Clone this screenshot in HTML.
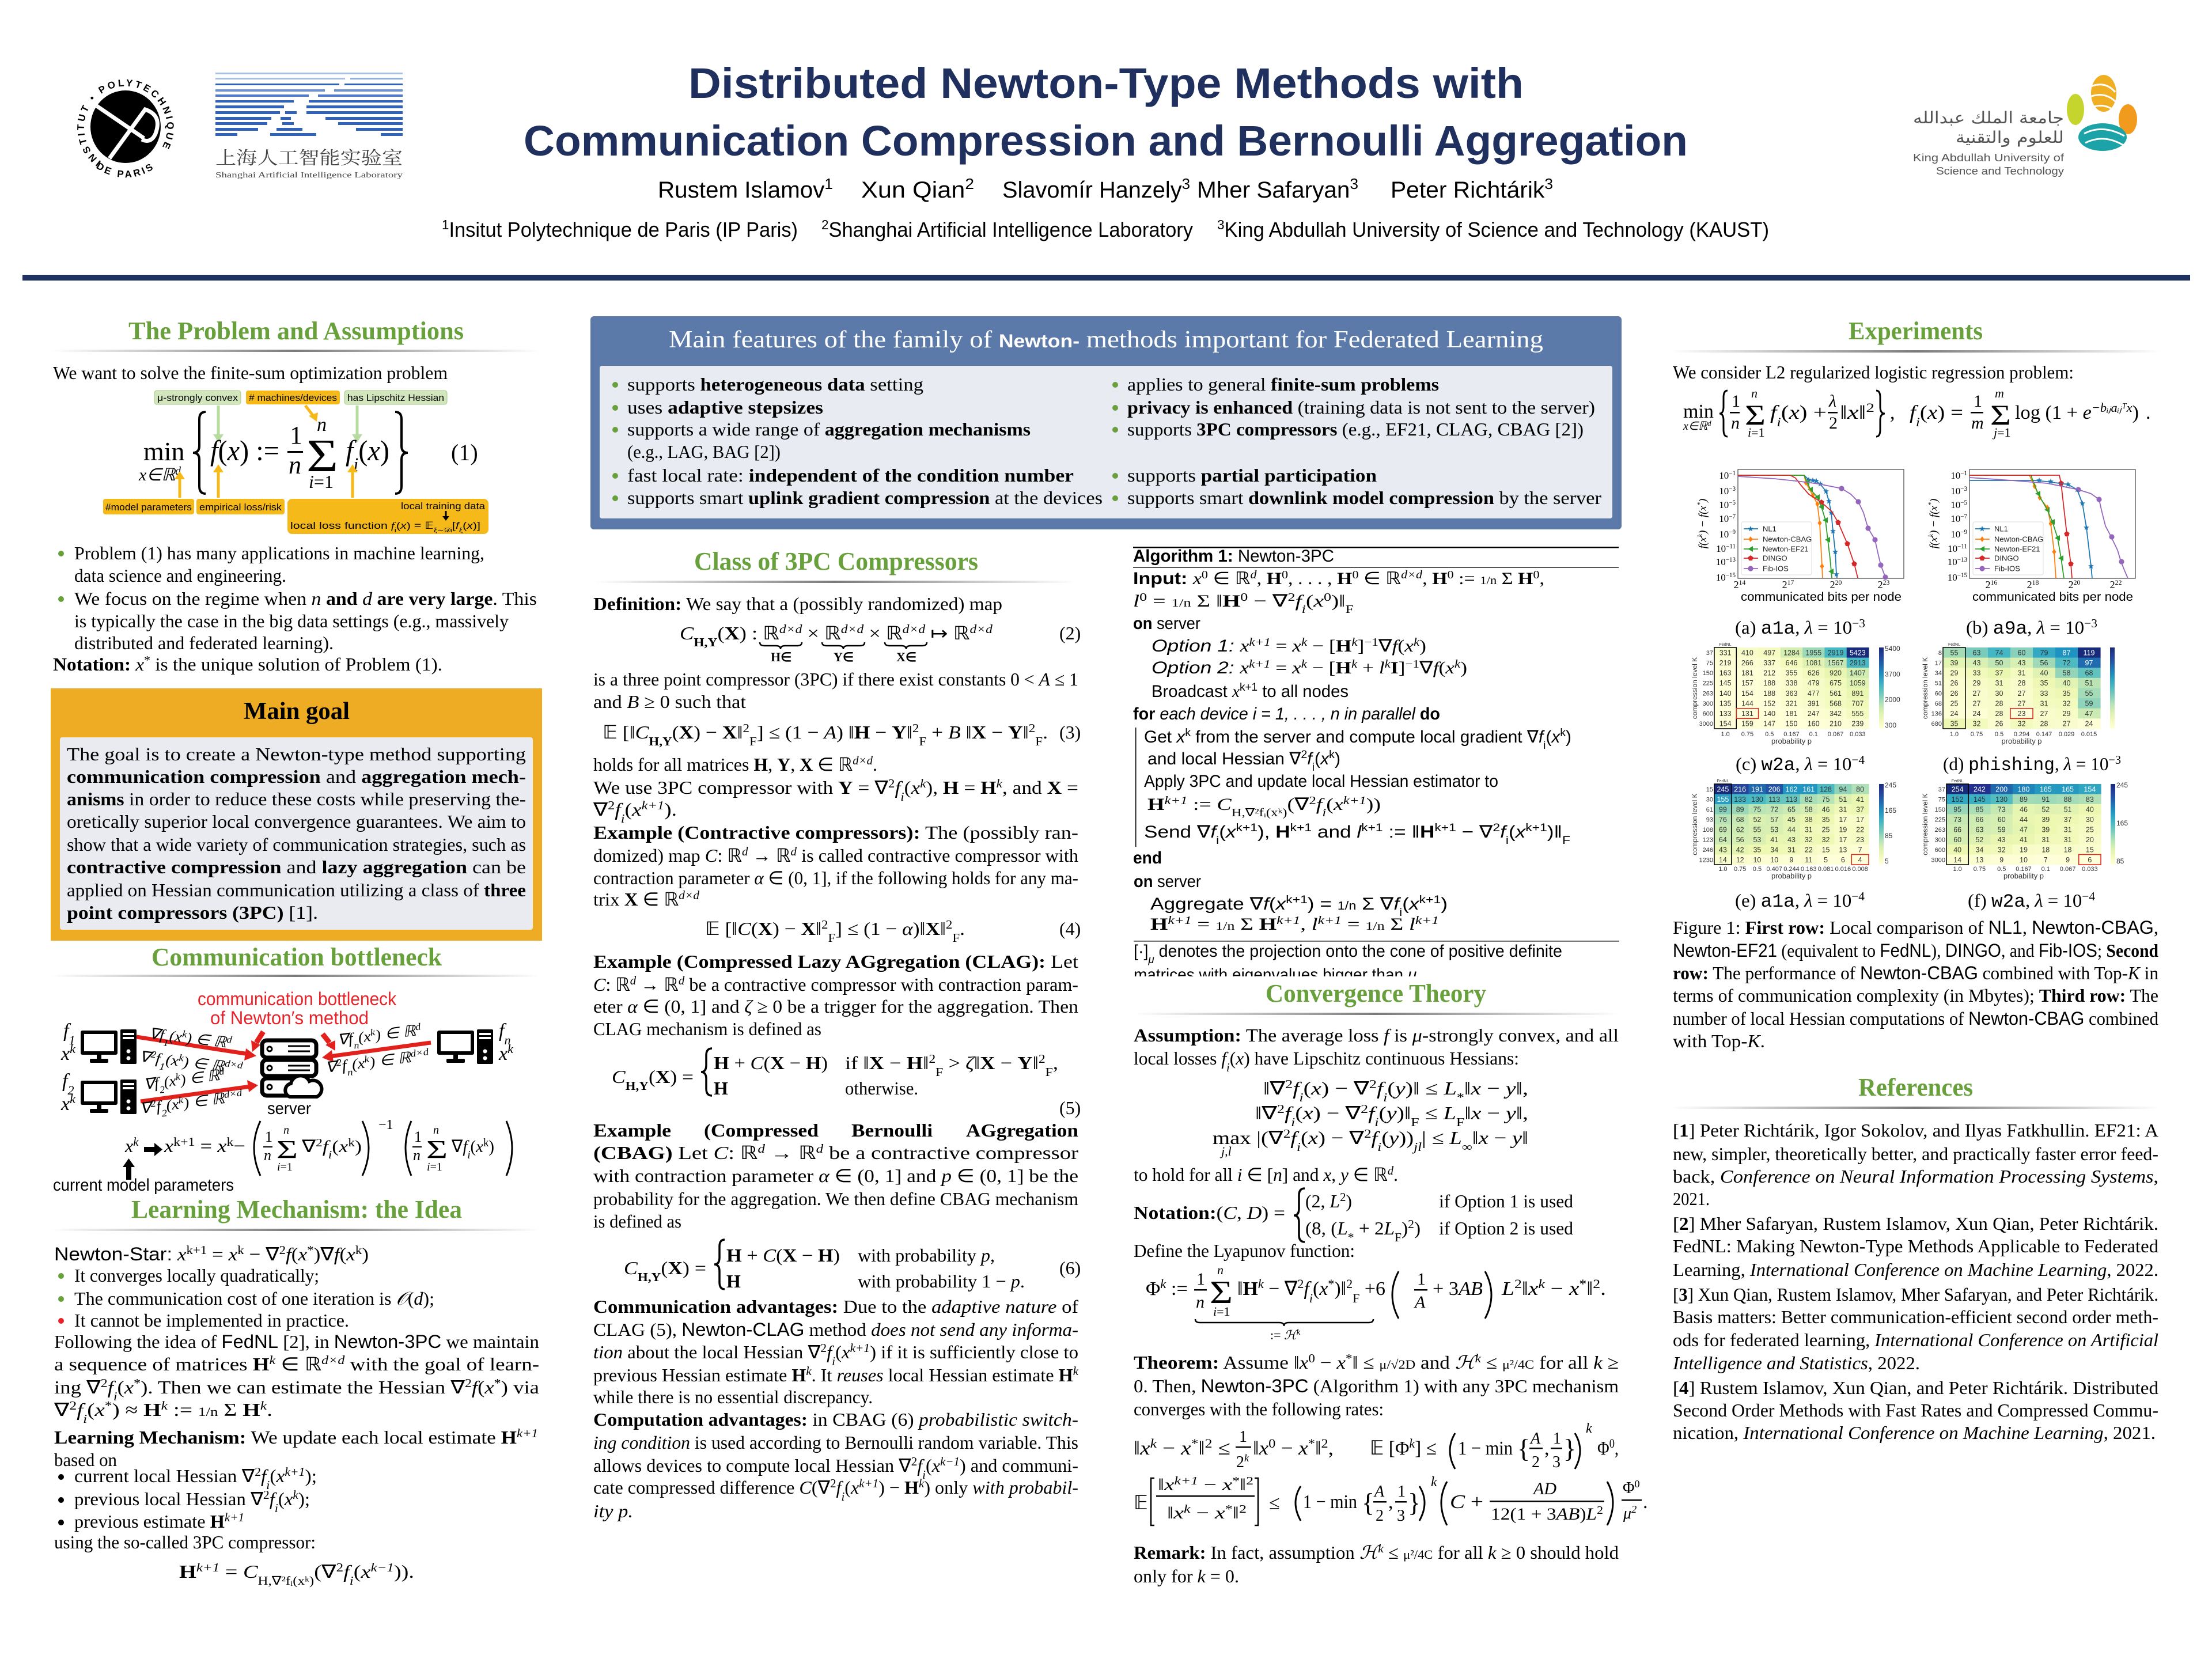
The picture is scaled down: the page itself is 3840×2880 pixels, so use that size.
<!DOCTYPE html>
<html><head><meta charset="utf-8">
<style>
html,body{margin:0;padding:0;background:#fff;width:3840px;height:2880px;overflow:hidden}
svg text{font-family:"Liberation Serif",serif;fill:#000}
.s{font-size:32px}
.ss{font-family:"Liberation Sans",sans-serif !important}
.b{font-weight:bold}
.i{font-style:italic}
.h{font-size:44px;font-weight:bold;fill:#68a03c !important}
.m{font-family:"Liberation Mono",monospace !important}
.sp{baseline-shift:super;font-size:65%}
.sb{baseline-shift:sub;font-size:65%}
.w{fill:#fff !important}
.tg{font-family:"Liberation Sans",sans-serif !important;font-size:17px}
</style></head><body>
<svg id="P" xmlns="http://www.w3.org/2000/svg" width="3840" height="2880" viewBox="0 0 3840 2880">
<defs>
<linearGradient id="gl" x1="0" x2="1" y1="0" y2="0">
<stop offset="0" stop-color="#ffffff"/><stop offset="0.5" stop-color="#7a7a7a"/><stop offset="1" stop-color="#ffffff"/>
</linearGradient>
<g id="pc">
<rect x="0" y="2" width="64" height="42" rx="3" fill="#000"/>
<rect x="6" y="8" width="52" height="30" fill="#fff"/>
<rect x="28" y="44" width="8" height="8" fill="#000"/>
<rect x="16" y="51" width="32" height="7" rx="2" fill="#000"/>
<rect x="69" y="0" width="28" height="60" rx="2" fill="#000"/>
<rect x="73" y="6" width="20" height="4" fill="#fff"/>
<rect x="73" y="13" width="20" height="4" fill="#fff"/>
<circle cx="83" cy="38" r="3.5" fill="#fff"/>
<circle cx="83" cy="50" r="3.5" fill="#fff"/>
</g>
<path id="ringT" d="M182,284 A72,72 0 1 1 273,268"/>
<path id="ringB" d="M143.5,265 A86,86 0 0 0 292.5,265"/>
</defs>
<rect x="0" y="0" width="3840" height="2880" fill="#fff"/>

<!-- ================= HEADER ================= -->
<!-- IP Paris logo -->
<ellipse cx="218" cy="220" rx="61" ry="63" fill="#000"/>
<path d="M168,184 L250,240" stroke="#fff" stroke-width="7" fill="none"/>
<path d="M190,275 L252,190 Q282,200 270,232 Q262,250 246,242" stroke="#fff" stroke-width="7" fill="none"/>
<text class="ss b" font-size="17" letter-spacing="4"><textPath href="#ringT" startOffset="2%">INSTITUT • POLYTECHNIQUE</textPath></text>
<text class="ss b" font-size="17" letter-spacing="4" text-anchor="middle"><textPath href="#ringB" startOffset="50%">DE PARIS</textPath></text>
<!-- Shanghai AI Lab logo -->
<g fill="#2f62b8">
<rect x="374" y="126" width="325" height="3" fill="#a9c0e6"/>
<rect x="374" y="135" width="225" height="3" fill="#a9c0e6"/><rect x="608" y="135" width="91" height="3" fill="#8fb0e0"/>
<rect x="374" y="145" width="215" height="3"/><rect x="598" y="145" width="101" height="3"/>
<rect x="374" y="155" width="190" height="4" fill="#6d93d4"/><rect x="580" y="155" width="119" height="4" fill="#6d93d4"/>
<rect x="374" y="164" width="162" height="4" fill="#4f7dcb"/><rect x="552" y="164" width="147" height="4" fill="#4f7dcb"/>
<rect x="374" y="174" width="136" height="4"/><rect x="536" y="174" width="163" height="4"/>
<rect x="374" y="183" width="119" height="5"/><rect x="532" y="183" width="167" height="5"/>
<rect x="374" y="193" width="112" height="5"/><rect x="495" y="193" width="20" height="5"/><rect x="532" y="193" width="167" height="5"/>
<rect x="374" y="203" width="97" height="5"/><rect x="487" y="203" width="18" height="5"/><rect x="565" y="203" width="134" height="5"/>
<rect x="374" y="212" width="90" height="5"/><rect x="490" y="212" width="20" height="5"/><rect x="587" y="212" width="112" height="5"/>
<rect x="374" y="222" width="74" height="5"/><rect x="480" y="222" width="45" height="5"/><rect x="618" y="222" width="81" height="5"/>
<rect x="374" y="231" width="38" height="5"/><rect x="469" y="231" width="80" height="5"/><rect x="661" y="231" width="38" height="5"/>
</g>
<text x="374" y="285" font-size="31" textLength="325" style="font-family:'Noto Serif CJK SC','Noto Sans CJK SC',serif;fill:#444">上海人工智能实验室</text>
<text x="374" y="308" font-size="14" textLength="325" style="fill:#444">Shanghai Artificial Intelligence Laboratory</text>
<!-- KAUST logo -->
<g>
<ellipse cx="3652" cy="162" rx="22" ry="32" fill="#f0ae22"/>
<ellipse cx="3603" cy="190" rx="15" ry="27" fill="#c6d42e"/>
<ellipse cx="3694" cy="207" rx="16" ry="26" fill="#f29a1d"/>
<ellipse cx="3650" cy="238" rx="42" ry="24" fill="#1ca3a7"/>
<path d="M3630,150 Q3655,140 3672,160 M3628,168 Q3655,158 3674,178 M3632,186 Q3655,178 3672,194" stroke="#fff" stroke-width="3" fill="none"/>
<path d="M3618,232 Q3650,215 3688,236 M3620,248 Q3652,232 3686,252" stroke="#fff" stroke-width="3" fill="none"/>
</g>
<text x="3321" y="214" font-size="28" textLength="262" style="font-family:'DejaVu Sans',sans-serif;fill:#555">جامعة الملك عبدالله</text>
<text x="3395" y="248" font-size="28" textLength="188" style="font-family:'DejaVu Sans',sans-serif;fill:#555">للعلوم والتقنية</text>
<text class="ss" x="3321" y="280" font-size="18" textLength="262" style="fill:#555">King Abdullah University of</text>
<text class="ss" x="3361" y="303" font-size="18" textLength="222" style="fill:#555">Science and Technology</text>

<!-- Title -->
<text class="ss b" x="1195" y="170" font-size="74" textLength="1450" style="fill:#1f2f5e">Distributed Newton-Type Methods with</text>
<text class="ss b" x="909" y="270" font-size="74" textLength="2021" style="fill:#1f2f5e">Communication Compression and Bernoulli Aggregation</text>
<text class="ss" x="1142" y="343" font-size="40" textLength="304">Rustem Islamov<tspan class="sp">1</tspan></text>
<text class="ss" x="1495" y="343" font-size="40" textLength="196">Xun Qian<tspan class="sp">2</tspan></text>
<text class="ss" x="1740" y="343" font-size="40" textLength="326">Slavomír Hanzely<tspan class="sp">3</tspan></text>
<text class="ss" x="2078" y="343" font-size="40" textLength="280">Mher Safaryan<tspan class="sp">3</tspan></text>
<text class="ss" x="2414" y="343" font-size="40" textLength="282">Peter Richtárik<tspan class="sp">3</tspan></text>
<text class="ss" x="767" y="411" font-size="36" textLength="618"><tspan class="sp">1</tspan>Insitut Polytechnique de Paris (IP Paris)</text>
<text class="ss" x="1426" y="411" font-size="36" textLength="645"><tspan class="sp">2</tspan>Shanghai Artificial Intelligence Laboratory</text>
<text class="ss" x="2113" y="411" font-size="36" textLength="958"><tspan class="sp">3</tspan>King Abdullah University of Science and Technology (KAUST)</text>
<rect x="39" y="477" width="3763" height="10" fill="#1f3161"/>

<!-- ================= LEFT COLUMN ================= -->
<text class="h" x="223" y="589" textLength="582">The Problem and Assumptions</text>
<rect x="89" y="607" width="848" height="4" fill="url(#gl)"/>
<text class="s" x="92" y="658" textLength="685">We want to solve the finite-sum optimization problem</text>

<!-- tags -->
<rect x="268" y="678" width="150" height="24" rx="4" fill="#d2e6bd" stroke="#aacb8c"/>
<text class="tg" x="273" y="696" textLength="140">μ-strongly convex</text>
<rect x="427" y="678" width="163" height="24" rx="4" fill="#f6b91a"/>
<text class="tg" x="432" y="696" textLength="153"># machines/devices</text>
<rect x="598" y="678" width="178" height="24" rx="4" fill="#d2e6bd" stroke="#aacb8c"/>
<text class="tg" x="603" y="696" textLength="168">has Lipschitz Hessian</text>
<g stroke="#b7dca0" stroke-width="5"><line x1="379" y1="704" x2="379" y2="758"/><line x1="620" y1="704" x2="620" y2="758"/></g>
<polygon points="370,754 388,754 379,768" fill="#b7dca0"/>
<polygon points="611,754 629,754 620,768" fill="#b7dca0"/>
<line x1="530" y1="704" x2="544" y2="722" stroke="#f6b91a" stroke-width="5"/>
<polygon points="536,722 552,716 550,732" fill="#f6b91a"/>
<!-- formula -->
<text x="249" y="799" font-size="46">min</text>
<text class="i" x="241" y="834" font-size="30">x∈ℝ<tspan class="sp">d</tspan></text>
<path d="M357,715 Q346,715 346,728 L346,774 Q346,786 335,786 Q346,786 346,798 L346,844 Q346,857 357,857" stroke="#000" stroke-width="4" fill="none"/>
<text x="365" y="799" font-size="50" textLength="120"><tspan class="i">f</tspan>(<tspan class="i">x</tspan>) :=</text>
<text x="503" y="770" font-size="44">1</text>
<rect x="499" y="783" width="27" height="3" fill="#000"/>
<text class="i" x="501" y="822" font-size="44">n</text>
<text x="532" y="818" font-size="80" textLength="55">Σ</text>
<text class="i" x="550" y="748" font-size="34">n</text>
<text x="536" y="847" font-size="32"><tspan class="i">i</tspan>=1</text>
<text x="600" y="799" font-size="50" textLength="76"><tspan class="i">f</tspan><tspan class="sb i">i</tspan>(<tspan class="i">x</tspan>)</text>
<path d="M686,715 Q697,715 697,728 L697,774 Q697,786 708,786 Q697,786 697,798 L697,844 Q697,857 686,857" stroke="#000" stroke-width="4" fill="none"/>
<text x="783" y="799" font-size="40">(1)</text>
<g stroke="#f6b91a" stroke-width="5"><line x1="312" y1="864" x2="312" y2="830"/><line x1="379" y1="864" x2="379" y2="818"/><line x1="612" y1="864" x2="612" y2="818"/></g>
<polygon points="303,832 321,832 312,818" fill="#f6b91a"/>
<polygon points="370,820 388,820 379,806" fill="#f6b91a"/>
<polygon points="603,820 621,820 612,806" fill="#f6b91a"/>
<rect x="179" y="866" width="158" height="27" rx="4" fill="#f6b91a"/>
<text class="tg" x="183" y="886" textLength="150">#model parameters</text>
<rect x="341" y="866" width="153" height="27" rx="4" fill="#f6b91a"/>
<text class="tg" x="346" y="886" textLength="143">empirical loss/risk</text>
<rect x="499" y="866" width="349" height="61" rx="8" fill="#f6b91a"/>
<text class="tg" x="696" y="884" textLength="146">local training data</text>
<line x1="774" y1="887" x2="774" y2="897" stroke="#000" stroke-width="3"/>
<polygon points="768,896 780,896 774,904" fill="#000"/>
<text class="tg" x="504" y="918" textLength="330">local loss function <tspan class="i" style="font-family:'Liberation Serif'">f</tspan><tspan class="sb">i</tspan>(<tspan class="i">x</tspan>) = 𝔼<tspan class="sb">ξ∼𝒟i</tspan>[<tspan class="i">f</tspan><tspan class="sb">ξ</tspan>(<tspan class="i">x</tspan>)]</text>

<circle cx="106" cy="961" r="5" fill="#68a03c"/>
<text class="s" x="129" y="971" textLength="712">Problem (1) has many applications in machine learning,</text>
<text class="s" x="129" y="1010" textLength="368">data science and engineering.</text>
<circle cx="106" cy="1040" r="5" fill="#68a03c"/>
<text class="s" x="129" y="1050" textLength="803">We focus on the regime when <tspan class="i">n</tspan> <tspan class="b">and</tspan> <tspan class="i">d</tspan> <tspan class="b">are very large</tspan>. This</text>
<text class="s" x="129" y="1089" textLength="754">is typically the case in the big data settings (e.g., massively</text>
<text class="s" x="129" y="1127" textLength="450">distributed and federated learning).</text>
<text class="s" x="92" y="1164" textLength="676"><tspan class="b">Notation:</tspan> <tspan class="i">x</tspan><tspan class="sp">*</tspan> is the unique solution of Problem (1).</text>

<!-- Main goal -->
<rect x="88" y="1195" width="853" height="438" fill="#eeac25"/>
<text class="b" x="423" y="1248" font-size="42" textLength="184">Main goal</text>
<rect x="104" y="1280" width="821" height="334" rx="4" fill="#e9ebf0"/>
<text class="s" x="116" y="1320" textLength="797">The goal is to create a Newton-type method supporting</text>
<text class="s" x="116" y="1359" textLength="797"><tspan class="b">communication compression</tspan> and <tspan class="b">aggregation mech-</tspan></text>
<text class="s" x="116" y="1398" textLength="797"><tspan class="b">anisms</tspan> in order to reduce these costs while preserving the-</text>
<text class="s" x="116" y="1437" textLength="797">oretically superior local convergence guarantees. We aim to</text>
<text class="s" x="116" y="1477" textLength="797">show that a wide variety of communication strategies, such as</text>
<text class="s" x="116" y="1516" textLength="797"><tspan class="b">contractive compression</tspan> and <tspan class="b">lazy aggregation</tspan> can be</text>
<text class="s" x="116" y="1556" textLength="797">applied on Hessian communication utilizing a class of <tspan class="b">three</tspan></text>
<text class="s" x="116" y="1595" textLength="436"><tspan class="b">point compressors (3PC)</tspan> [1].</text>

<!-- Communication bottleneck -->
<text class="h" x="263" y="1676" textLength="504">Communication bottleneck</text>
<rect x="89" y="1692" width="848" height="4" fill="url(#gl)"/>
<text class="ss" x="343" y="1745" font-size="32" textLength="345" style="fill:#e8232a">communication bottleneck</text>
<text class="ss" x="365" y="1778" font-size="32" textLength="275" style="fill:#e8232a">of Newton′s method</text>
<use href="#pc" x="140" y="1787"/>
<use href="#pc" x="140" y="1874"/>
<use href="#pc" x="759" y="1787"/>
<text class="i" x="110" y="1800" font-size="34">f<tspan class="sb">1</tspan></text>
<text class="i" x="106" y="1840" font-size="34">x<tspan class="sp">k</tspan></text>
<text class="i" x="108" y="1887" font-size="34">f<tspan class="sb">2</tspan></text>
<text class="i" x="106" y="1927" font-size="34">x<tspan class="sp">k</tspan></text>
<text class="i" x="866" y="1800" font-size="34">f<tspan class="sb">n</tspan></text>
<text class="i" x="866" y="1840" font-size="34">x<tspan class="sp">k</tspan></text>
<!-- server -->
<g fill="#fff" stroke="#000" stroke-width="7">
<rect x="455" y="1806" width="94" height="30" rx="8"/>
<rect x="455" y="1840" width="94" height="28" rx="8"/>
<rect x="455" y="1872" width="80" height="30" rx="8"/>
</g>
<g fill="#fff" stroke="#000" stroke-width="3"><circle cx="468" cy="1821" r="4"/><circle cx="468" cy="1854" r="4"/><circle cx="468" cy="1887" r="4"/></g>
<g stroke="#000" stroke-width="3"><line x1="500" y1="1816" x2="538" y2="1816"/><line x1="500" y1="1825" x2="538" y2="1825"/><line x1="500" y1="1850" x2="538" y2="1850"/><line x1="500" y1="1858" x2="538" y2="1858"/></g>
<path d="M503,1904 a12,12 0 0 1 2,-23 a17,17 0 0 1 32,-4 a12,12 0 0 1 13,27 z" fill="#fff" stroke="#000" stroke-width="6"/>
<text class="ss" x="464" y="1934" font-size="30" textLength="76">server</text>
<!-- red arrows -->
<g stroke="#e3211c" stroke-width="7">
<line x1="237" y1="1800" x2="432" y2="1830"/>
<line x1="244" y1="1912" x2="435" y2="1886"/>
<line x1="748" y1="1810" x2="572" y2="1834"/>
</g>
<polygon points="445,1833 427,1820 424,1841" fill="#e3211c"/>
<polygon points="448,1884 429,1875 432,1896" fill="#e3211c"/>
<polygon points="559,1836 576,1823 579,1844" fill="#e3211c"/>
<g stroke="#e3211c" stroke-width="9"><line x1="457" y1="1791" x2="445" y2="1810"/><line x1="560" y1="1795" x2="572" y2="1810"/></g>
<polygon points="436,1806 452,1814 438,1826" fill="#e3211c"/>
<polygon points="565,1814 582,1806 582,1824" fill="#e3211c"/>
<text class="i" font-size="26" transform="rotate(7 258 1802)" x="258" y="1802" textLength="144">∇f<tspan class="sb">1</tspan>(x<tspan class="sp">k</tspan>) ∈ ℝ<tspan class="sp">d</tspan></text>
<text class="i" font-size="26" transform="rotate(7 241 1842)" x="241" y="1842" textLength="180">∇<tspan class="sp">2</tspan>f<tspan class="sb">1</tspan>(x<tspan class="sp">k</tspan>) ∈ ℝ<tspan class="sp">d×d</tspan></text>
<text class="i" font-size="26" transform="rotate(-7 251 1891)" x="251" y="1891" textLength="141">∇f<tspan class="sb">2</tspan>(x<tspan class="sp">k</tspan>) ∈ ℝ<tspan class="sp">d</tspan></text>
<text class="i" font-size="26" transform="rotate(-7 244 1933)" x="244" y="1933" textLength="179">∇<tspan class="sp">2</tspan>f<tspan class="sb">2</tspan>(x<tspan class="sp">k</tspan>) ∈ ℝ<tspan class="sp">d×d</tspan></text>
<text class="i" font-size="26" transform="rotate(-7 587 1814)" x="587" y="1814" textLength="146">∇f<tspan class="sb">n</tspan>(x<tspan class="sp">k</tspan>) ∈ ℝ<tspan class="sp">d</tspan></text>
<text class="i" font-size="26" transform="rotate(-7 566 1862)" x="566" y="1862" textLength="181">∇<tspan class="sp">2</tspan>f<tspan class="sb">n</tspan>(x<tspan class="sp">k</tspan>) ∈ ℝ<tspan class="sp">d×d</tspan></text>
<!-- update equation -->
<text class="i" x="217" y="2000" font-size="32">x<tspan class="sp">k</tspan></text>
<rect x="250" y="1991" width="20" height="9" fill="#000"/>
<polygon points="268,1984 282,1995.5 268,2007" fill="#000"/>
<text x="285" y="2000" font-size="32" textLength="141"><tspan class="i">x</tspan><tspan class="sp">k+1</tspan> = <tspan class="i">x</tspan><tspan class="sp">k</tspan>−</text>
<path d="M452,1946 Q430,1993 452,2041" stroke="#000" stroke-width="3" fill="none"/>
<text x="460" y="1982" font-size="26">1</text><rect x="457" y="1990" width="16" height="2" fill="#000"/><text class="i" x="458" y="2014" font-size="26">n</text>
<text x="480" y="2010" font-size="44" textLength="37">Σ</text>
<text class="i" x="492" y="1968" font-size="20">n</text><text x="481" y="2032" font-size="20"><tspan class="i">i</tspan>=1</text>
<text x="524" y="2000" font-size="30" textLength="104">∇<tspan class="sp">2</tspan><tspan class="i">f</tspan><tspan class="sb i">i</tspan>(<tspan class="i">x</tspan><tspan class="sp">k</tspan>)</text>
<path d="M629,1946 Q651,1993 629,2041" stroke="#000" stroke-width="3" fill="none"/>
<text x="657" y="1960" font-size="24">−1</text>
<path d="M714,1946 Q694,1993 714,2041" stroke="#000" stroke-width="3" fill="none"/>
<text x="719" y="1982" font-size="26">1</text><rect x="716" y="1990" width="16" height="2" fill="#000"/><text class="i" x="717" y="2014" font-size="26">n</text>
<text x="740" y="2010" font-size="44" textLength="37">Σ</text>
<text class="i" x="752" y="1968" font-size="20">n</text><text x="741" y="2032" font-size="20"><tspan class="i">i</tspan>=1</text>
<text x="784" y="2000" font-size="30" textLength="74">∇<tspan class="i">f</tspan><tspan class="sb i">i</tspan>(<tspan class="i">x</tspan><tspan class="sp">k</tspan>)</text>
<path d="M879,1946 Q899,1993 879,2041" stroke="#000" stroke-width="3" fill="none"/>
<rect x="219" y="2024" width="9" height="24" fill="#000"/>
<polygon points="213,2026 234,2026 223.5,2011" fill="#000"/>
<text class="ss" x="92" y="2067" font-size="30" textLength="314">current model parameters</text>

<!-- Learning mechanism -->
<text class="h" x="228" y="2114" textLength="574">Learning Mechanism: the Idea</text>
<rect x="89" y="2133" width="848" height="4" fill="url(#gl)"/>
<text class="s" x="94" y="2188" textLength="546"><tspan class="ss">Newton-Star:</tspan> <tspan class="i">x</tspan><tspan class="sp">k+1</tspan> = <tspan class="i">x</tspan><tspan class="sp">k</tspan> − ∇<tspan class="sp">2</tspan><tspan class="i">f</tspan>(<tspan class="i">x</tspan><tspan class="sp">*</tspan>)∇<tspan class="i">f</tspan>(<tspan class="i">x</tspan><tspan class="sp">k</tspan>)</text>
<circle cx="106" cy="2215" r="5" fill="#68a03c"/>
<text class="s" x="129" y="2225" textLength="425">It converges locally quadratically;</text>
<circle cx="106" cy="2255" r="5" fill="#68a03c"/>
<text class="s" x="129" y="2265" textLength="625">The communication cost of one iteration is <tspan class="i">𝒪</tspan>(<tspan class="i">d</tspan>);</text>
<circle cx="106" cy="2293" r="5" fill="#e8232a"/>
<text class="s" x="129" y="2303" textLength="477">It cannot be implemented in practice.</text>
<text class="s" x="94" y="2340" textLength="842">Following the idea of <tspan class="ss">FedNL</tspan> [2], in <tspan class="ss">Newton-3PC</tspan> we maintain</text>
<text class="s" x="94" y="2379" textLength="842">a sequence of matrices <tspan class="b">H</tspan><tspan class="sp i">k</tspan> ∈ ℝ<tspan class="sp i">d×d</tspan> with the goal of learn-</text>
<text class="s" x="94" y="2419" textLength="842">ing ∇<tspan class="sp">2</tspan><tspan class="i">f</tspan><tspan class="sb i">i</tspan>(<tspan class="i">x</tspan><tspan class="sp">*</tspan>). Then we can estimate the Hessian ∇<tspan class="sp">2</tspan><tspan class="i">f</tspan>(<tspan class="i">x</tspan><tspan class="sp">*</tspan>) via</text>
<text class="s" x="94" y="2458" textLength="379">∇<tspan class="sp">2</tspan><tspan class="i">f</tspan><tspan class="sb i">i</tspan>(<tspan class="i">x</tspan><tspan class="sp">*</tspan>) ≈ <tspan class="b">H</tspan><tspan class="sp i">k</tspan> := <tspan font-size="22">1/n</tspan> Σ <tspan class="b">H</tspan><tspan class="sp i">k</tspan>.</text>
<text class="s" x="94" y="2506" textLength="840"><tspan class="b">Learning Mechanism:</tspan> We update each local estimate <tspan class="b">H</tspan><tspan class="sp i">k+1</tspan></text>
<text class="s" x="94" y="2545" textLength="109">based on</text>
<circle cx="106" cy="2564" r="5" fill="#000"/>
<text class="s" x="129" y="2573" textLength="421">current local Hessian ∇<tspan class="sp">2</tspan><tspan class="i">f</tspan><tspan class="sb i">i</tspan>(<tspan class="i">x</tspan><tspan class="sp i">k+1</tspan>);</text>
<circle cx="106" cy="2604" r="5" fill="#000"/>
<text class="s" x="129" y="2613" textLength="409">previous local Hessian ∇<tspan class="sp">2</tspan><tspan class="i">f</tspan><tspan class="sb i">i</tspan>(<tspan class="i">x</tspan><tspan class="sp i">k</tspan>);</text>
<circle cx="106" cy="2643" r="5" fill="#000"/>
<text class="s" x="129" y="2652" textLength="295">previous estimate <tspan class="b">H</tspan><tspan class="sp i">k+1</tspan></text>
<text class="s" x="94" y="2688" textLength="454">using the so-called 3PC compressor:</text>
<text class="s" x="311" y="2739" textLength="408"><tspan class="b">H</tspan><tspan class="sp i">k+1</tspan> = <tspan class="i">C</tspan><tspan class="sb" font-size="20">H,∇²fᵢ(xᵏ)</tspan>(∇<tspan class="sp">2</tspan><tspan class="i">f</tspan><tspan class="sb i">i</tspan>(<tspan class="i">x</tspan><tspan class="sp i">k−1</tspan>)).</text>

<!-- ================= MIDDLE COLUMN ================= -->
<rect x="1025" y="549" width="1790" height="370" rx="6" fill="#5b7aa9"/>
<rect x="1041" y="635" width="1758" height="265" rx="4" fill="#e8ebf1"/>
<text class="w" x="1161" y="603" font-size="42" textLength="1518">Main features of the family of <tspan class="ss b" font-size="32">Newton-</tspan> methods important for Federated Learning</text>
<g fill="#68a03c">
<circle cx="1068" cy="668" r="5"/><circle cx="1068" cy="708" r="5"/><circle cx="1068" cy="746" r="5"/><circle cx="1068" cy="826" r="5"/><circle cx="1068" cy="865" r="5"/>
<circle cx="1936" cy="668" r="5"/><circle cx="1936" cy="708" r="5"/><circle cx="1936" cy="746" r="5"/><circle cx="1936" cy="826" r="5"/><circle cx="1936" cy="865" r="5"/>
</g>
<text class="s" x="1089" y="678" textLength="514">supports <tspan class="b">heterogeneous data</tspan> setting</text>
<text class="s" x="1089" y="718" textLength="340">uses <tspan class="b">adaptive stepsizes</tspan></text>
<text class="s" x="1089" y="756" textLength="700">supports a wide range of <tspan class="b">aggregation mechanisms</tspan></text>
<text class="s" x="1089" y="795" textLength="266">(e.g., LAG, BAG [2])</text>
<text class="s" x="1089" y="836" textLength="775">fast local rate: <tspan class="b">independent of the condition number</tspan></text>
<text class="s" x="1089" y="875" textLength="825">supports smart <tspan class="b">uplink gradient compression</tspan> at the devices</text>
<text class="s" x="1957" y="678" textLength="541">applies to general <tspan class="b">finite-sum problems</tspan></text>
<text class="s" x="1957" y="718" textLength="812"><tspan class="b">privacy is enhanced</tspan> (training data is not sent to the server)</text>
<text class="s" x="1957" y="756" textLength="792">supports <tspan class="b">3PC compressors</tspan> (e.g., EF21, CLAG, CBAG [2])</text>
<text class="s" x="1957" y="836" textLength="433">supports <tspan class="b">partial participation</tspan></text>
<text class="s" x="1957" y="875" textLength="823">supports smart <tspan class="b">downlink model compression</tspan> by the server</text>

<!-- Class of 3PC -->
<text class="h" x="1205" y="989" textLength="493">Class of 3PC Compressors</text>
<rect x="1032" y="1008" width="835" height="4" fill="url(#gl)"/>
<text class="s" x="1030" y="1059" textLength="710"><tspan class="b">Definition:</tspan> We say that a (possibly randomized) map</text>
<text class="s" x="1180" y="1110" textLength="543"><tspan class="i">C</tspan><tspan class="sb b">H,Y</tspan>(<tspan class="b">X</tspan>) : ℝ<tspan class="sp i">d×d</tspan> × ℝ<tspan class="sp i">d×d</tspan> × ℝ<tspan class="sp i">d×d</tspan> ↦ ℝ<tspan class="sp i">d×d</tspan></text>
<g stroke="#000" stroke-width="2.5" fill="none">
<path d="M1319,1115 Q1319,1121 1327,1121 L1347,1121 Q1355,1121 1355,1127 Q1355,1121 1363,1121 L1384,1121 Q1392,1121 1392,1115"/>
<path d="M1427,1115 Q1427,1121 1435,1121 L1456,1121 Q1464,1121 1464,1127 Q1464,1121 1472,1121 L1493,1121 Q1501,1121 1501,1115"/>
<path d="M1536,1115 Q1536,1121 1544,1121 L1565,1121 Q1573,1121 1573,1127 Q1573,1121 1581,1121 L1601,1121 Q1609,1121 1609,1115"/>
</g>
<text class="b" x="1338" y="1148" font-size="22">H∈</text>
<text class="b" x="1447" y="1148" font-size="22">Y∈</text>
<text class="b" x="1556" y="1148" font-size="22">X∈</text>
<text class="s" x="1839" y="1110">(2)</text>
<text class="s" x="1030" y="1190" textLength="842">is a three point compressor (3PC) if there exist constants 0 &lt; <tspan class="i">A</tspan> ≤ 1</text>
<text class="s" x="1030" y="1229" textLength="265">and <tspan class="i">B</tspan> ≥ 0 such that</text>
<text class="s" x="1046" y="1282" textLength="773">𝔼 [‖<tspan class="i">C</tspan><tspan class="sb b">H,Y</tspan>(<tspan class="b">X</tspan>) − <tspan class="b">X</tspan>‖<tspan class="sp">2</tspan><tspan class="sb">F</tspan>] ≤ (1 − <tspan class="i">A</tspan>) ‖<tspan class="b">H</tspan> − <tspan class="b">Y</tspan>‖<tspan class="sp">2</tspan><tspan class="sb">F</tspan> + <tspan class="i">B</tspan> ‖<tspan class="b">X</tspan> − <tspan class="b">Y</tspan>‖<tspan class="sp">2</tspan><tspan class="sb">F</tspan>.</text>
<text class="s" x="1839" y="1282">(3)</text>
<text class="s" x="1030" y="1338" textLength="493">holds for all matrices <tspan class="b">H</tspan>, <tspan class="b">Y</tspan>, <tspan class="b">X</tspan> ∈ ℝ<tspan class="sp i">d×d</tspan>.</text>
<text class="s" x="1030" y="1378" textLength="842">We use 3PC compressor with <tspan class="b">Y</tspan> = ∇<tspan class="sp">2</tspan><tspan class="i">f</tspan><tspan class="sb i">i</tspan>(<tspan class="i">x</tspan><tspan class="sp i">k</tspan>), <tspan class="b">H</tspan> = <tspan class="b">H</tspan><tspan class="sp i">k</tspan>, and <tspan class="b">X</tspan> =</text>
<text class="s" x="1030" y="1416" textLength="145">∇<tspan class="sp">2</tspan><tspan class="i">f</tspan><tspan class="sb i">i</tspan>(<tspan class="i">x</tspan><tspan class="sp i">k+1</tspan>).</text>
<text class="s" x="1030" y="1456" textLength="842"><tspan class="b">Example (Contractive compressors):</tspan> The (possibly ran-</text>
<text class="s" x="1030" y="1496" textLength="842">domized) map <tspan class="i">C</tspan>: ℝ<tspan class="sp i">d</tspan> → ℝ<tspan class="sp i">d</tspan> is called contractive compressor with</text>
<text class="s" x="1030" y="1535" textLength="842">contraction parameter <tspan class="i">α</tspan> ∈ (0, 1], if the following holds for any ma-</text>
<text class="s" x="1030" y="1572" textLength="184">trix <tspan class="b">X</tspan> ∈ ℝ<tspan class="sp i">d×d</tspan></text>
<text class="s" x="1224" y="1623" textLength="451">𝔼 [‖<tspan class="i">C</tspan>(<tspan class="b">X</tspan>) − <tspan class="b">X</tspan>‖<tspan class="sp">2</tspan><tspan class="sb">F</tspan>] ≤ (1 − <tspan class="i">α</tspan>)‖<tspan class="b">X</tspan>‖<tspan class="sp">2</tspan><tspan class="sb">F</tspan>.</text>
<text class="s" x="1839" y="1623">(4)</text>
<text class="s" x="1030" y="1680" textLength="842"><tspan class="b">Example (Compressed Lazy AGgregation (CLAG):</tspan> Let</text>
<text class="s" x="1030" y="1720" textLength="842"><tspan class="i">C</tspan>: ℝ<tspan class="sp i">d</tspan> → ℝ<tspan class="sp i">d</tspan> be a contractive compressor with contraction param-</text>
<text class="s" x="1030" y="1758" textLength="842">eter <tspan class="i">α</tspan> ∈ (0, 1] and <tspan class="i">ζ</tspan> ≥ 0 be a trigger for the aggregation. Then</text>
<text class="s" x="1030" y="1797" textLength="396">CLAG mechanism is defined as</text>
<text class="s" x="1062" y="1880" textLength="142"><tspan class="i">C</tspan><tspan class="sb b">H,Y</tspan>(<tspan class="b">X</tspan>) =</text>
<path d="M1236,1820 Q1226,1820 1226,1832 L1226,1849 Q1226,1861 1217,1861 Q1226,1861 1226,1873 L1226,1890 Q1226,1902 1236,1902" stroke="#000" stroke-width="3.5" fill="none"/>
<text class="s" x="1239" y="1856" textLength="198"><tspan class="b">H</tspan> + <tspan class="i">C</tspan>(<tspan class="b">X</tspan> − <tspan class="b">H</tspan>)</text>
<text class="s" x="1467" y="1856" textLength="370">if ‖<tspan class="b">X</tspan> − <tspan class="b">H</tspan>‖<tspan class="sp">2</tspan><tspan class="sb">F</tspan> &gt; <tspan class="i">ζ</tspan>‖<tspan class="b">X</tspan> − <tspan class="b">Y</tspan>‖<tspan class="sp">2</tspan><tspan class="sb">F</tspan>,</text>
<text class="s b" x="1239" y="1900">H</text>
<text class="s" x="1467" y="1900" textLength="127">otherwise.</text>
<text class="s" x="1839" y="1934">(5)</text>
<text class="s b" x="1030" y="1973" textLength="135">Example</text>
<text class="s b" x="1222" y="1973" textLength="199">(Compressed</text>
<text class="s b" x="1478" y="1973" textLength="141">Bernoulli</text>
<text class="s b" x="1677" y="1973" textLength="195">AGgregation</text>
<text class="s" x="1030" y="2012" textLength="842"><tspan class="b">(CBAG)</tspan> Let <tspan class="i">C</tspan>: ℝ<tspan class="sp i">d</tspan>  →  ℝ<tspan class="sp i">d</tspan> be a contractive compressor</text>
<text class="s" x="1030" y="2052" textLength="842">with contraction parameter <tspan class="i">α</tspan> ∈ (0, 1] and <tspan class="i">p</tspan> ∈ (0, 1] be the</text>
<text class="s" x="1030" y="2092" textLength="842">probability for the aggregation. We then define CBAG mechanism</text>
<text class="s" x="1030" y="2131" textLength="153">is defined as</text>
<text class="s" x="1083" y="2212" textLength="143"><tspan class="i">C</tspan><tspan class="sb b">H,Y</tspan>(<tspan class="b">X</tspan>) =</text>
<path d="M1258,2152 Q1249,2152 1249,2164 L1249,2183 Q1249,2195 1240,2195 Q1249,2195 1249,2207 L1249,2226 Q1249,2238 1258,2238" stroke="#000" stroke-width="3.5" fill="none"/>
<text class="s" x="1261" y="2190" textLength="197"><tspan class="b">H</tspan> + <tspan class="i">C</tspan>(<tspan class="b">X</tspan> − <tspan class="b">H</tspan>)</text>
<text class="s" x="1489" y="2190" textLength="238">with probability <tspan class="i">p</tspan>,</text>
<text class="s b" x="1261" y="2235">H</text>
<text class="s" x="1489" y="2235" textLength="290">with probability 1 − <tspan class="i">p</tspan>.</text>
<text class="s" x="1839" y="2212">(6)</text>
<text class="s" x="1030" y="2279" textLength="842"><tspan class="b">Communication advantages:</tspan> Due to the <tspan class="i">adaptive nature</tspan> of</text>
<text class="s" x="1030" y="2319" textLength="842">CLAG (5), <tspan class="ss">Newton-CLAG</tspan> method <tspan class="i">does not send any informa-</tspan></text>
<text class="s" x="1030" y="2358" textLength="842"><tspan class="i">tion</tspan> about the local Hessian ∇<tspan class="sp">2</tspan><tspan class="i">f</tspan><tspan class="sb i">i</tspan>(<tspan class="i">x</tspan><tspan class="sp i">k+1</tspan>) if it is sufficiently close to</text>
<text class="s" x="1030" y="2398" textLength="842">previous Hessian estimate <tspan class="b">H</tspan><tspan class="sp i">k</tspan>. It <tspan class="i">reuses</tspan> local Hessian estimate <tspan class="b">H</tspan><tspan class="sp i">k</tspan></text>
<text class="s" x="1030" y="2436" textLength="485">while there is no essential discrepancy.</text>
<text class="s" x="1030" y="2475" textLength="842"><tspan class="b">Computation advantages:</tspan> in CBAG (6) <tspan class="i">probabilistic switch-</tspan></text>
<text class="s" x="1030" y="2515" textLength="842"><tspan class="i">ing condition</tspan> is used according to Bernoulli random variable. This</text>
<text class="s" x="1030" y="2555" textLength="842">allows devices to compute local Hessian ∇<tspan class="sp">2</tspan><tspan class="i">f</tspan><tspan class="sb i">i</tspan>(<tspan class="i">x</tspan><tspan class="sp i">k−1</tspan>) and communi-</text>
<text class="s" x="1030" y="2593" textLength="842">cate compressed difference <tspan class="i">C</tspan>(∇<tspan class="sp">2</tspan><tspan class="i">f</tspan><tspan class="sb i">i</tspan>(<tspan class="i">x</tspan><tspan class="sp i">k+1</tspan>) − <tspan class="b">H</tspan><tspan class="sp i">k</tspan>) only <tspan class="i">with probabil-</tspan></text>
<text class="s i" x="1030" y="2634" textLength="69">ity p.</text>

<!-- Algorithm -->
<rect x="1967" y="949" width="843" height="2.5" fill="#000"/>
<text class="ss" x="1967" y="975" font-size="30" textLength="349"><tspan class="b">Algorithm 1:</tspan> Newton-3PC</text>
<rect x="1967" y="984" width="843" height="1.5" fill="#000"/>
<text class="ss" x="1967" y="1014" font-size="30" textLength="714"><tspan class="b">Input:</tspan> <tspan style="font-family:'Liberation Serif'"><tspan class="i">x</tspan><tspan class="sp">0</tspan> ∈ ℝ<tspan class="sp i">d</tspan>, <tspan class="b">H</tspan><tspan class="sp">0</tspan>, . . . , <tspan class="b">H</tspan><tspan class="sp">0</tspan> ∈ ℝ<tspan class="sp i">d×d</tspan>, <tspan class="b">H</tspan><tspan class="sp">0</tspan> := <tspan font-size="20">1/n</tspan> Σ <tspan class="b">H</tspan><tspan class="sp">0</tspan>,</tspan></text>
<text x="1967" y="1053" font-size="30" textLength="383"><tspan class="i">l</tspan><tspan class="sp">0</tspan> = <tspan font-size="20">1/n</tspan> Σ ‖<tspan class="b">H</tspan><tspan class="sp">0</tspan> − ∇<tspan class="sp">2</tspan><tspan class="i">f</tspan><tspan class="sb i">i</tspan>(<tspan class="i">x</tspan><tspan class="sp">0</tspan>)‖<tspan class="sb">F</tspan></text>
<text class="ss" x="1967" y="1092" font-size="30" textLength="117"><tspan class="b">on</tspan> server</text>
<text class="ss" x="1999" y="1131" font-size="30" textLength="477"><tspan class="i">Option 1:</tspan> <tspan style="font-family:'Liberation Serif'"><tspan class="i">x</tspan><tspan class="sp i">k+1</tspan> = <tspan class="i">x</tspan><tspan class="sp i">k</tspan> − [<tspan class="b">H</tspan><tspan class="sp i">k</tspan>]<tspan class="sp">−1</tspan>∇<tspan class="i">f</tspan>(<tspan class="i">x</tspan><tspan class="sp i">k</tspan>)</tspan></text>
<text class="ss" x="1999" y="1169" font-size="30" textLength="548"><tspan class="i">Option 2:</tspan> <tspan style="font-family:'Liberation Serif'"><tspan class="i">x</tspan><tspan class="sp i">k+1</tspan> = <tspan class="i">x</tspan><tspan class="sp i">k</tspan> − [<tspan class="b">H</tspan><tspan class="sp i">k</tspan> + <tspan class="i">l</tspan><tspan class="sp i">k</tspan><tspan class="b">I</tspan>]<tspan class="sp">−1</tspan>∇<tspan class="i">f</tspan>(<tspan class="i">x</tspan><tspan class="sp i">k</tspan>)</tspan></text>
<text class="ss" x="1999" y="1210" font-size="30" textLength="342">Broadcast <tspan class="i" style="font-family:'Liberation Serif'">x</tspan><tspan class="sp">k+1</tspan> to all nodes</text>
<text class="ss" x="1967" y="1249" font-size="30" textLength="533"><tspan class="b">for</tspan> <tspan class="i">each device i = 1, . . . , n in parallel</tspan> <tspan class="b">do</tspan></text>
<rect x="1971" y="1263" width="1.5" height="207" fill="#000"/>
<text class="ss" x="1986" y="1289" font-size="30" textLength="742">Get <tspan class="i">x</tspan><tspan class="sp">k</tspan> from the server and compute local gradient ∇<tspan class="i">f</tspan><tspan class="sb">i</tspan>(<tspan class="i">x</tspan><tspan class="sp">k</tspan>)</text>
<text class="ss" x="1992" y="1327" font-size="30" textLength="335">and local Hessian ∇<tspan class="sp">2</tspan><tspan class="i">f</tspan><tspan class="sb">i</tspan>(<tspan class="i">x</tspan><tspan class="sp">k</tspan>)</text>
<text class="ss" x="1986" y="1366" font-size="30" textLength="615">Apply 3PC and update local Hessian estimator to</text>
<text x="1992" y="1406" font-size="30" textLength="405"><tspan class="b">H</tspan><tspan class="sp i">k+1</tspan> := <tspan class="i">C</tspan><tspan class="sb" font-size="18">H,∇²fᵢ(xᵏ)</tspan>(∇<tspan class="sp">2</tspan><tspan class="i">f</tspan><tspan class="sb i">i</tspan>(<tspan class="i">x</tspan><tspan class="sp i">k+1</tspan>))</text>
<text class="ss" x="1986" y="1454" font-size="30" textLength="740">Send ∇<tspan class="i">f</tspan><tspan class="sb">i</tspan>(<tspan class="i">x</tspan><tspan class="sp">k+1</tspan>), <tspan class="b">H</tspan><tspan class="sp">k+1</tspan> and <tspan class="i">l</tspan><tspan class="sp">k+1</tspan> := ‖<tspan class="b">H</tspan><tspan class="sp">k+1</tspan> − ∇<tspan class="sp">2</tspan><tspan class="i">f</tspan><tspan class="sb">i</tspan>(<tspan class="i">x</tspan><tspan class="sp">k+1</tspan>)‖<tspan class="sb">F</tspan></text>
<text class="ss b" x="1967" y="1499" font-size="30" textLength="50">end</text>
<text class="ss" x="1968" y="1540" font-size="30" textLength="117"><tspan class="b">on</tspan> server</text>
<text class="ss" x="1997" y="1579" font-size="30" textLength="516">Aggregate ∇<tspan class="i">f</tspan>(<tspan class="i">x</tspan><tspan class="sp">k+1</tspan>) = <tspan font-size="20">1/n</tspan> Σ ∇<tspan class="i">f</tspan><tspan class="sb">i</tspan>(<tspan class="i">x</tspan><tspan class="sp">k+1</tspan>)</text>
<text x="1997" y="1614" font-size="30" textLength="501"><tspan class="b">H</tspan><tspan class="sp i">k+1</tspan> = <tspan font-size="20">1/n</tspan> Σ <tspan class="b">H</tspan><tspan class="sp i">k+1</tspan>, <tspan class="i">l</tspan><tspan class="sp i">k+1</tspan> = <tspan font-size="20">1/n</tspan> Σ <tspan class="i">l</tspan><tspan class="sp i">k+1</tspan></text>
<rect x="1968" y="1633" width="843" height="1.5" fill="#000"/>
<text class="ss" x="1968" y="1661" font-size="30" textLength="744">[·]<tspan class="sb i">μ</tspan> denotes the projection onto the cone of positive definite</text>
<text class="ss" x="1968" y="1702" font-size="30" textLength="499">matrices with eigenvalues bigger than <tspan class="i">μ</tspan>.</text>
<rect x="1960" y="1695" width="860" height="14" fill="#fff"/>

<!-- Convergence -->
<text class="h" x="2197" y="1739" textLength="383">Convergence Theory</text>
<rect x="1970" y="1758" width="840" height="4" fill="url(#gl)"/>
<text class="s" x="1968" y="1808" textLength="842"><tspan class="b">Assumption:</tspan> The average loss <tspan class="i">f</tspan> is <tspan class="i">μ</tspan>-strongly convex, and all</text>
<text class="s" x="1968" y="1848" textLength="669">local losses <tspan class="i">f</tspan><tspan class="sb i">i</tspan>(<tspan class="i">x</tspan>) have Lipschitz continuous Hessians:</text>
<text class="s" x="2193" y="1900" textLength="460">‖∇<tspan class="sp">2</tspan><tspan class="i">f</tspan><tspan class="sb i">i</tspan>(<tspan class="i">x</tspan>) − ∇<tspan class="sp">2</tspan><tspan class="i">f</tspan><tspan class="sb i">i</tspan>(<tspan class="i">y</tspan>)‖  ≤ <tspan class="i">L</tspan><tspan class="sb">*</tspan>‖<tspan class="i">x</tspan> − <tspan class="i">y</tspan>‖,</text>
<text class="s" x="2179" y="1943" textLength="474">‖∇<tspan class="sp">2</tspan><tspan class="i">f</tspan><tspan class="sb i">i</tspan>(<tspan class="i">x</tspan>) − ∇<tspan class="sp">2</tspan><tspan class="i">f</tspan><tspan class="sb i">i</tspan>(<tspan class="i">y</tspan>)‖<tspan class="sb">F</tspan> ≤ <tspan class="i">L</tspan><tspan class="sb">F</tspan>‖<tspan class="i">x</tspan> − <tspan class="i">y</tspan>‖,</text>
<text class="s" x="2105" y="1986" textLength="548">max |(∇<tspan class="sp">2</tspan><tspan class="i">f</tspan><tspan class="sb i">i</tspan>(<tspan class="i">x</tspan>) − ∇<tspan class="sp">2</tspan><tspan class="i">f</tspan><tspan class="sb i">i</tspan>(<tspan class="i">y</tspan>))<tspan class="sb i">jl</tspan>| ≤ <tspan class="i">L</tspan><tspan class="sb">∞</tspan>‖<tspan class="i">x</tspan> − <tspan class="i">y</tspan>‖</text>
<text class="i" x="2120" y="2006" font-size="22">j,l</text>
<text class="s" x="1968" y="2050" textLength="459">to hold for all <tspan class="i">i</tspan> ∈ [<tspan class="i">n</tspan>] and <tspan class="i">x</tspan>, <tspan class="i">y</tspan> ∈ ℝ<tspan class="sp i">d</tspan>.</text>
<text class="s" x="1968" y="2116" textLength="263"><tspan class="b">Notation:</tspan>(<tspan class="i">C</tspan>, <tspan class="i">D</tspan>) =</text>
<path d="M2265,2063 Q2255,2063 2255,2075 L2255,2098 Q2255,2110 2246,2110 Q2255,2110 2255,2122 L2255,2144 Q2255,2156 2265,2156" stroke="#000" stroke-width="3.5" fill="none"/>
<text class="s" x="2266" y="2096" textLength="81">(2, <tspan class="i">L</tspan><tspan class="sp">2</tspan>)</text>
<text class="s" x="2498" y="2096" textLength="233">if Option 1 is used</text>
<text class="s" x="2266" y="2143" textLength="200">(8, (<tspan class="i">L</tspan><tspan class="sb">*</tspan> + 2<tspan class="i">L</tspan><tspan class="sb">F</tspan>)<tspan class="sp">2</tspan>)</text>
<text class="s" x="2498" y="2143" textLength="233">if Option 2 is used</text>
<text class="s" x="1968" y="2182" textLength="384">Define the Lyapunov function:</text>
<!-- Phi -->
<text x="1989" y="2248" font-size="34" textLength="73">Φ<tspan class="sp i">k</tspan> :=</text>
<text x="2077" y="2230" font-size="30">1</text><rect x="2073" y="2238" width="22" height="2.5" fill="#000"/><text class="i" x="2076" y="2270" font-size="30">n</text>
<text x="2100" y="2262" font-size="56" textLength="40">Σ</text>
<text class="i" x="2113" y="2212" font-size="22">n</text><text x="2106" y="2284" font-size="22"><tspan class="i">i</tspan>=1</text>
<text x="2148" y="2248" font-size="34" textLength="257">‖<tspan class="b">H</tspan><tspan class="sp i">k</tspan> − ∇<tspan class="sp">2</tspan><tspan class="i">f</tspan><tspan class="sb i">i</tspan>(<tspan class="i">x</tspan><tspan class="sp">*</tspan>)‖<tspan class="sp">2</tspan><tspan class="sb">F</tspan> +6</text>
<path d="M2428,2207 Q2406,2248 2428,2289" stroke="#000" stroke-width="3" fill="none"/>
<text x="2460" y="2230" font-size="30">1</text><rect x="2455" y="2238" width="23" height="2.5" fill="#000"/><text class="i" x="2456" y="2270" font-size="30">A</text>
<text x="2487" y="2248" font-size="34" textLength="87">+ 3<tspan class="i">AB</tspan></text>
<path d="M2578,2207 Q2600,2248 2578,2289" stroke="#000" stroke-width="3" fill="none"/>
<text x="2607" y="2248" font-size="34" textLength="181"><tspan class="i">L</tspan><tspan class="sp">2</tspan>‖<tspan class="i">x</tspan><tspan class="sp i">k</tspan> − <tspan class="i">x</tspan><tspan class="sp">*</tspan>‖<tspan class="sp">2</tspan>.</text>
<path d="M2075,2290 Q2075,2296 2083,2296 L2221,2296 Q2229,2296 2229,2302 Q2229,2296 2237,2296 L2376,2296 Q2384,2296 2384,2290" stroke="#000" stroke-width="2.5" fill="none"/>
<text x="2205" y="2325" font-size="22">:= <tspan class="i">ℋ</tspan><tspan class="sp i">k</tspan></text>
<text class="s" x="1968" y="2376" textLength="842"><tspan class="b">Theorem:</tspan> Assume ‖<tspan class="i">x</tspan><tspan class="sp">0</tspan> − <tspan class="i">x</tspan><tspan class="sp">*</tspan>‖ ≤ <tspan font-size="22">μ/√2D</tspan> and <tspan class="i">ℋ</tspan><tspan class="sp i">k</tspan> ≤ <tspan font-size="22">μ²/4C</tspan> for all <tspan class="i">k</tspan> ≥</text>
<text class="s" x="1968" y="2417" textLength="842">0. Then, <tspan class="ss">Newton-3PC</tspan> (Algorithm 1) with any 3PC mechanism</text>
<text class="s" x="1968" y="2457" textLength="434">converges with the following rates:</text>
<!-- rates line 1 -->
<text x="1968" y="2525" font-size="34" textLength="168">‖<tspan class="i">x</tspan><tspan class="sp i">k</tspan> − <tspan class="i">x</tspan><tspan class="sp">*</tspan>‖<tspan class="sp">2</tspan> ≤</text>
<text x="2151" y="2503" font-size="28">1</text><rect x="2145" y="2511" width="27" height="2.5" fill="#000"/><text x="2146" y="2547" font-size="28">2<tspan class="sp i">k</tspan></text>
<text x="2175" y="2525" font-size="34" textLength="140">‖<tspan class="i">x</tspan><tspan class="sp">0</tspan> − <tspan class="i">x</tspan><tspan class="sp">*</tspan>‖<tspan class="sp">2</tspan>,</text>
<text x="2378" y="2525" font-size="34" textLength="116">𝔼 [Φ<tspan class="sp i">k</tspan>] ≤</text>
<path d="M2526,2488 Q2508,2518 2526,2550" stroke="#000" stroke-width="3" fill="none"/>
<text x="2531" y="2525" font-size="34" textLength="95">1 − min</text>
<text x="2634" y="2530" font-size="46">{</text>
<text class="i" x="2657" y="2506" font-size="28">A</text><rect x="2655" y="2513" width="23" height="2.5" fill="#000"/><text x="2659" y="2547" font-size="28">2</text>
<text x="2681" y="2525" font-size="34">,</text>
<text x="2696" y="2506" font-size="28">1</text><rect x="2692" y="2513" width="20" height="2.5" fill="#000"/><text x="2695" y="2547" font-size="28">3</text>
<text x="2714" y="2530" font-size="46">}</text>
<path d="M2734,2488 Q2752,2518 2734,2550" stroke="#000" stroke-width="3" fill="none"/>
<text class="i" x="2753" y="2487" font-size="24">k</text>
<text x="2773" y="2525" font-size="34" textLength="37">Φ<tspan class="sp">0</tspan>,</text>
<!-- rates line 2 -->
<text x="1968" y="2620" font-size="34">𝔼</text>
<path d="M2004,2566 L1998,2566 L1998,2648 L2004,2648" stroke="#000" stroke-width="2.5" fill="none"/>
<text x="2010" y="2587" font-size="30" textLength="166">‖<tspan class="i">x</tspan><tspan class="sp i">k+1</tspan> − <tspan class="i">x</tspan><tspan class="sp">*</tspan>‖<tspan class="sp">2</tspan></text>
<rect x="2007" y="2596" width="171" height="2.5" fill="#000"/>
<text x="2026" y="2636" font-size="30" textLength="138">‖<tspan class="i">x</tspan><tspan class="sp i">k</tspan> − <tspan class="i">x</tspan><tspan class="sp">*</tspan>‖<tspan class="sp">2</tspan></text>
<path d="M2178,2566 L2184,2566 L2184,2648 L2178,2648" stroke="#000" stroke-width="2.5" fill="none"/>
<text x="2203" y="2620" font-size="34">≤</text>
<path d="M2258,2580 Q2240,2608 2258,2640" stroke="#000" stroke-width="3" fill="none"/>
<text x="2262" y="2618" font-size="34" textLength="94">1 − min</text>
<text x="2364" y="2624" font-size="46">{</text>
<text class="i" x="2386" y="2598" font-size="28">A</text><rect x="2384" y="2606" width="23" height="2.5" fill="#000"/><text x="2388" y="2640" font-size="28">2</text>
<text x="2410" y="2618" font-size="34">,</text>
<text x="2426" y="2598" font-size="28">1</text><rect x="2422" y="2606" width="20" height="2.5" fill="#000"/><text x="2425" y="2640" font-size="28">3</text>
<text x="2444" y="2624" font-size="46">}</text>
<path d="M2464,2580 Q2482,2608 2464,2640" stroke="#000" stroke-width="3" fill="none"/>
<text class="i" x="2484" y="2580" font-size="24">k</text>
<path d="M2512,2572 Q2492,2608 2512,2648" stroke="#000" stroke-width="3" fill="none"/>
<text x="2517" y="2618" font-size="34" textLength="58"><tspan class="i">C</tspan> +</text>
<text class="i" x="2662" y="2594" font-size="30">AD</text>
<rect x="2586" y="2605" width="199" height="2.5" fill="#000"/>
<text x="2588" y="2638" font-size="30" textLength="195">12(1 + 3<tspan class="i">AB</tspan>)<tspan class="i">L</tspan><tspan class="sp">2</tspan></text>
<path d="M2790,2572 Q2810,2608 2790,2648" stroke="#000" stroke-width="3" fill="none"/>
<text x="2817" y="2592" font-size="28">Φ<tspan class="sp">0</tspan></text>
<rect x="2815" y="2603" width="35" height="2.5" fill="#000"/>
<text class="i" x="2818" y="2636" font-size="28">μ<tspan class="sp">2</tspan></text>
<text x="2852" y="2618" font-size="34">.</text>
<text class="s" x="1968" y="2706" textLength="842"><tspan class="b">Remark:</tspan> In fact, assumption <tspan class="i">ℋ</tspan><tspan class="sp i">k</tspan> ≤ <tspan font-size="22">μ²/4C</tspan> for all <tspan class="i">k</tspan> ≥ 0 should hold</text>
<text class="s" x="1968" y="2747" textLength="183">only for <tspan class="i">k</tspan> = 0.</text>

<!-- ================= RIGHT COLUMN ================= -->
<text class="h" x="3209" y="589" textLength="233">Experiments</text>
<rect x="2901" y="608" width="849" height="4" fill="url(#gl)"/>
<text class="s" x="2904" y="657" textLength="696">We consider L2 regularized logistic regression problem:</text>
<text x="2922" y="725" font-size="34">min</text>
<text class="i" x="2922" y="746" font-size="20">x∈ℝ<tspan class="sp">d</tspan></text>
<path d="M2999,678 Q2992,678 2992,690 L2992,706 Q2992,718 2985,718 Q2992,718 2992,730 L2992,746 Q2992,758 2999,758" stroke="#000" stroke-width="3" fill="none"/>
<text x="3006" y="706" font-size="30">1</text><rect x="3003" y="715" width="17" height="2.5" fill="#000"/><text class="i" x="3005" y="744" font-size="30">n</text>
<text x="3029" y="737" font-size="50" textLength="36">Σ</text>
<text class="i" x="3040" y="690" font-size="22">n</text><text x="3034" y="758" font-size="22"><tspan class="i">i</tspan>=1</text>
<text x="3073" y="727" font-size="34" textLength="98"><tspan class="i">f</tspan><tspan class="sb i">i</tspan>(<tspan class="i">x</tspan>) +</text>
<text class="i" x="3175" y="706" font-size="30">λ</text><rect x="3173" y="715" width="17" height="2.5" fill="#000"/><text x="3175" y="744" font-size="30">2</text>
<text x="3194" y="727" font-size="34" textLength="60">‖<tspan class="i">x</tspan>‖<tspan class="sp">2</tspan></text>
<path d="M3257,678 Q3264,678 3264,690 L3264,706 Q3264,718 3272,718 Q3264,718 3264,730 L3264,746 Q3264,758 3257,758" stroke="#000" stroke-width="3" fill="none"/>
<text x="3281" y="727" font-size="34">,</text>
<text x="3315" y="727" font-size="34" textLength="93"><tspan class="i">f</tspan><tspan class="sb i">i</tspan>(<tspan class="i">x</tspan>) =</text>
<text x="3426" y="706" font-size="30">1</text><rect x="3421" y="715" width="22" height="2.5" fill="#000"/><text class="i" x="3422" y="744" font-size="30">m</text>
<text x="3455" y="737" font-size="50" textLength="36">Σ</text>
<text class="i" x="3463" y="690" font-size="22">m</text><text x="3461" y="758" font-size="22"><tspan class="i">j</tspan>=1</text>
<text x="3498" y="727" font-size="34" textLength="215">log (1 + <tspan class="i">e</tspan><tspan class="sp i">−bᵢⱼaᵢⱼᵀx</tspan>)</text>
<text x="3725" y="727" font-size="34">.</text>

<!-- plot frames -->
<g id="plots">
<rect x="3017" y="815" width="288" height="189" fill="none" stroke="#444" stroke-width="1.2"/>
<rect x="3419" y="815" width="288" height="189" fill="none" stroke="#444" stroke-width="1.2"/>
</g>
<g font-size="17" text-anchor="end">
<text x="3013" y="831">10<tspan class="sp">−1</tspan></text><text x="3013" y="858">10<tspan class="sp">−3</tspan></text><text x="3013" y="882">10<tspan class="sp">−5</tspan></text><text x="3013" y="906">10<tspan class="sp">−7</tspan></text><text x="3013" y="933">10<tspan class="sp">−9</tspan></text><text x="3013" y="958">10<tspan class="sp">−11</tspan></text><text x="3013" y="981">10<tspan class="sp">−13</tspan></text><text x="3013" y="1008">10<tspan class="sp">−15</tspan></text>
<text x="3415" y="831">10<tspan class="sp">−1</tspan></text><text x="3415" y="858">10<tspan class="sp">−3</tspan></text><text x="3415" y="882">10<tspan class="sp">−5</tspan></text><text x="3415" y="906">10<tspan class="sp">−7</tspan></text><text x="3415" y="933">10<tspan class="sp">−9</tspan></text><text x="3415" y="958">10<tspan class="sp">−11</tspan></text><text x="3415" y="981">10<tspan class="sp">−13</tspan></text><text x="3415" y="1008">10<tspan class="sp">−15</tspan></text>
</g>
<g font-size="18" text-anchor="middle">
<text x="3020" y="1021">2<tspan class="sp">14</tspan></text><text x="3104" y="1021">2<tspan class="sp">17</tspan></text><text x="3187" y="1021">2<tspan class="sp">20</tspan></text><text x="3270" y="1021">2<tspan class="sp">23</tspan></text>
<text x="3457" y="1021">2<tspan class="sp">16</tspan></text><text x="3529" y="1021">2<tspan class="sp">18</tspan></text><text x="3601" y="1021">2<tspan class="sp">20</tspan></text><text x="3673" y="1021">2<tspan class="sp">22</tspan></text>
</g>
<text class="ss" x="3022" y="1043" font-size="21" textLength="279">communicated bits per node</text>
<text class="ss" x="3424" y="1043" font-size="21" textLength="279">communicated bits per node</text>
<text class="i" x="2962" y="909" font-size="19" text-anchor="middle" transform="rotate(-90 2962 909)">f(x<tspan class="sp">k</tspan>) − f(x<tspan class="sp">*</tspan>)</text>
<text class="i" x="3363" y="909" font-size="19" text-anchor="middle" transform="rotate(-90 3363 909)">f(x<tspan class="sp">k</tspan>) − f(x<tspan class="sp">*</tspan>)</text>
<g fill="none" stroke-width="1.8">
<polyline stroke="#1f77b4" points="3017,825 3132,825 3140,833 3153,835 3162,843 3170,853 3175,870 3179,890 3182,922 3186,958 3188,997 3189,1003"/>
<polyline stroke="#ff7f0e" points="3017,825 3132,825 3135,838 3147,860 3155,875 3159,908 3163,983 3164,1003"/>
<polyline stroke="#2ca02c" points="3017,825 3132,825 3137,837 3143,850 3155,863 3162,880 3169,903 3173,937 3177,970 3179,992 3180,1003"/>
<polyline stroke="#d62728" points="3017,825 3108,825 3117,830 3127,843 3140,858 3162,872 3180,888 3191,907 3207,944 3219,979 3225,1003"/>
<polyline stroke="#9467bd" points="3017,827 3080,831 3127,836 3157,840 3197,848 3213,858 3226,871 3235,890 3243,917 3255,937 3260,960 3265,981 3273,1002"/>
<polyline stroke="#1f77b4" points="3419,834 3532,834 3553,836 3590,841 3606,850 3615,874 3622,916 3630,983 3632,1004"/>
<polyline stroke="#ff7f0e" points="3419,825 3523,825 3532,844 3541,864 3554,881 3560,909 3566,958 3569,1004"/>
<polyline stroke="#2ca02c" points="3419,825 3526,825 3527,829 3538,857 3554,885 3563,906 3572,934 3578,969 3583,1004"/>
<polyline stroke="#d62728" points="3419,825 3575,825 3578,839 3584,892 3588,927 3595,979 3597,1004"/>
<polyline stroke="#9467bd" points="3419,829 3492,834 3554,839 3608,850 3630,857 3644,867 3648,885 3655,913 3664,930 3676,955 3682,975 3688,990 3694,1004"/>
</g>
<rect x="3023" y="906" width="122" height="92" rx="3" fill="#fff" fill-opacity="0.85" stroke="#ddd"/>
<rect x="3425" y="906" width="122" height="92" rx="3" fill="#fff" fill-opacity="0.85" stroke="#ddd"/>
<g id="legs" class="ss" font-size="13"></g>
<text class="s" x="3012" y="1100" textLength="226">(a) <tspan class="m">a1a</tspan>, <tspan class="i">λ</tspan> = 10<tspan class="sp">−3</tspan></text>
<text class="s" x="3413" y="1100" textLength="228">(b) <tspan class="m">a9a</tspan>, <tspan class="i">λ</tspan> = 10<tspan class="sp">−3</tspan></text>
<text class="s" x="3013" y="1337" textLength="224">(c) <tspan class="m">w2a</tspan>, <tspan class="i">λ</tspan> = 10<tspan class="sp">−4</tspan></text>
<text class="s" x="3373" y="1337" textLength="309">(d) <tspan class="m">phishing</tspan>, <tspan class="i">λ</tspan> = 10<tspan class="sp">−3</tspan></text>
<text class="s" x="3012" y="1574" textLength="225">(e) <tspan class="m">a1a</tspan>, <tspan class="i">λ</tspan> = 10<tspan class="sp">−4</tspan></text>
<text class="s" x="3416" y="1574" textLength="221">(f) <tspan class="m">w2a</tspan>, <tspan class="i">λ</tspan> = 10<tspan class="sp">−4</tspan></text>
<g id="heat"></g>

<text class="s" x="2904" y="1621" textLength="843">Figure 1: <tspan class="b">First row:</tspan> Local comparison of <tspan class="ss">NL1</tspan>, <tspan class="ss">Newton-CBAG</tspan>,</text>
<text class="s" x="2904" y="1661" textLength="843"><tspan class="ss">Newton-EF21</tspan> (equivalent to <tspan class="ss">FedNL</tspan>), <tspan class="ss">DINGO</tspan>, and <tspan class="ss">Fib-IOS</tspan>; <tspan class="b">Second</tspan></text>
<text class="s" x="2904" y="1700" textLength="843"><tspan class="b">row:</tspan> The performance of <tspan class="ss">Newton-CBAG</tspan> combined with Top-<tspan class="i">K</tspan> in</text>
<text class="s" x="2904" y="1739" textLength="843">terms of communication complexity (in Mbytes); <tspan class="b">Third row:</tspan> The</text>
<text class="s" x="2904" y="1779" textLength="843">number of local Hessian computations of <tspan class="ss">Newton-CBAG</tspan> combined</text>
<text class="s" x="2904" y="1818" textLength="160">with Top-<tspan class="i">K</tspan>.</text>

<text class="h" x="3226" y="1902" textLength="199">References</text>
<rect x="2901" y="1921" width="849" height="4" fill="url(#gl)"/>
<text class="s" x="2904" y="1973" textLength="843">[<tspan class="b">1</tspan>] Peter Richtárik, Igor Sokolov, and Ilyas Fatkhullin.  EF21: A</text>
<text class="s" x="2904" y="2014" textLength="843">new, simpler, theoretically better, and practically faster error feed-</text>
<text class="s" x="2904" y="2053" textLength="843">back, <tspan class="i">Conference on Neural Information Processing Systems</tspan>,</text>
<text class="s" x="2904" y="2092" textLength="64">2021.</text>
<text class="s" x="2904" y="2135" textLength="843">[<tspan class="b">2</tspan>] Mher Safaryan, Rustem Islamov, Xun Qian, Peter Richtárik.</text>
<text class="s" x="2904" y="2174" textLength="843">FedNL: Making Newton-Type Methods Applicable to Federated</text>
<text class="s" x="2904" y="2215" textLength="843">Learning, <tspan class="i">International Conference on Machine Learning</tspan>, 2022.</text>
<text class="s" x="2904" y="2258" textLength="843">[<tspan class="b">3</tspan>] Xun Qian, Rustem Islamov, Mher Safaryan, and Peter Richtárik.</text>
<text class="s" x="2904" y="2297" textLength="843">Basis matters: Better communication-efficient second order meth-</text>
<text class="s" x="2904" y="2337" textLength="843">ods for federated learning, <tspan class="i">International Conference on Artificial</tspan></text>
<text class="s" x="2904" y="2377" textLength="429"><tspan class="i">Intelligence and Statistics</tspan>, 2022.</text>
<text class="s" x="2904" y="2420" textLength="843">[<tspan class="b">4</tspan>] Rustem Islamov, Xun Qian, and Peter Richtárik.  Distributed</text>
<text class="s" x="2904" y="2459" textLength="843">Second Order Methods with Fast Rates and Compressed Commu-</text>
<text class="s" x="2904" y="2498" textLength="838">nication, <tspan class="i">International Conference on Machine Learning</tspan>, 2021.</text>
</svg>
<script>
(function(){
var NS='http://www.w3.org/2000/svg';
var svg=document.getElementById('P');
var defs=svg.querySelector('defs');
var HG=document.getElementById('heat');
var LG=document.getElementById('legs');
function el(tag,a,p){var e=document.createElementNS(NS,tag);for(var k in a)e.setAttribute(k,a[k]);(p||svg).appendChild(e);return e;}
function tx(s,a,p){var e=el('text',a,p);e.textContent=s;return e;}
var st=[[255,255,217],[237,248,177],[199,233,180],[127,205,187],[65,182,196],[29,145,192],[34,94,168],[37,52,148],[8,29,88]];
function cm(t){t=Math.max(0,Math.min(1,t));var s=t*(st.length-1);var i=Math.min(Math.floor(s),st.length-2);var f=s-i;var a=st[i],b=st[i+1];return 'rgb('+[0,1,2].map(function(j){return Math.round(a[j]+(b[j]-a[j])*f);}).join(',')+')';}
var gid=0;
function heat(o){
 var R=o.data.length,C=o.data[0].length,w=(o.x1-o.x0)/C,h=(o.y1-o.y0)/R;
 for(var r=0;r<R;r++)for(var c=0;c<C;c++){
  var v=o.data[r][c];var t=(v-o.vmin)/(o.vmax-o.vmin)*0.93;
  el('rect',{x:o.x0+c*w,y:o.y0+r*h,width:w+0.6,height:h+0.6,fill:cm(t)},HG);
  tx(String(v),{x:o.x0+c*w+w/2,y:o.y0+r*h+h/2+4.5,'font-size':12.5,'text-anchor':'middle',style:'font-family:"Liberation Sans",sans-serif;fill:'+(t>0.55?'#fff':'#333')},HG);
 }
 for(var r=0;r<R;r++)tx(String(o.rows[r]),{x:o.x0-2,y:o.y0+r*h+h/2+4,'font-size':11,'text-anchor':'end',style:'font-family:"Liberation Sans",sans-serif;fill:#333'},HG);
 for(var c=0;c<C;c++)tx(o.cols[c],{x:o.x0+c*w+w/2,y:o.colY,'font-size':11,'text-anchor':'middle',style:'font-family:"Liberation Sans",sans-serif;fill:#333'},HG);
 tx('probability p',{x:(o.x0+o.x1)/2,y:o.plY,'font-size':13,'text-anchor':'middle',style:'font-family:"Liberation Sans",sans-serif;fill:#333'},HG);
 var cy=(o.y0+o.y1)/2;
 tx('compression level K',{x:o.ylx,y:cy,'font-size':12,'text-anchor':'middle',transform:'rotate(-90 '+o.ylx+' '+cy+')',style:'font-family:"Liberation Sans",sans-serif;fill:#333'},HG);
 tx('FedNL',{x:o.x0+w/2,y:o.y0-3,'font-size':7,'text-anchor':'middle',style:'font-family:"Liberation Sans",sans-serif;fill:#333'},HG);
 el('rect',{x:o.x0,y:o.y0,width:w,height:o.y1-o.y0,fill:'none',stroke:'#000','stroke-width':1.5},HG);
 el('rect',{x:o.x0+o.red[1]*w,y:o.y0+o.red[0]*h,width:w,height:h,fill:'none',stroke:'#e3211c','stroke-width':1.5},HG);
 var id='cb'+(gid++);var g=el('linearGradient',{id:id,x1:0,y1:1,x2:0,y2:0},defs);
 for(var i=0;i<=10;i++)el('stop',{offset:i/10,'stop-color':cm(i/10*0.93)},g);
 el('rect',{x:o.cbx,y:o.y0,width:8,height:o.y1-o.y0,fill:'url(#'+id+')'},HG);
 var n=o.cbt.length;
 for(var i=0;i<n;i++)tx(o.cbt[i],{x:o.cbx+10,y:o.y0+6+i*(o.y1-o.y0-8)/(Math.max(n-1,1)),'font-size':12,style:'font-family:"Liberation Sans",sans-serif;fill:#333'},HG);
}
heat({x0:2976,y0:1124,x1:3244,y1:1265,rows:[37,75,150,225,263,300,600,3000],cols:['1.0','0.75','0.5','0.167','0.1','0.067','0.033'],
data:[[331,410,497,1284,1955,2919,5423],[219,266,337,646,1081,1567,2913],[163,181,212,355,626,920,1407],[145,157,188,338,479,675,1059],[140,154,188,363,477,561,891],[135,144,152,321,391,568,707],[133,131,140,181,247,342,555],[154,159,147,150,160,210,239]],
red:[6,1],vmin:131,vmax:5423,cbx:3262,cbt:['5400','3700','2000','300'],ylx:2946,colY:1278,plY:1291});
heat({x0:3373,y0:1124,x1:3646,y1:1265,rows:[8,17,34,51,60,68,136,680],cols:['1.0','0.75','0.5','0.294','0.147','0.029','0.015'],
data:[[55,63,74,60,79,87,119],[39,43,50,43,56,72,97],[29,33,37,31,40,58,68],[26,29,31,28,35,40,51],[26,27,30,27,33,35,55],[25,27,28,27,31,32,59],[24,24,28,23,27,29,47],[35,32,26,32,28,27,24]],
red:[6,3],vmin:23,vmax:119,cbx:3663,cbt:[],ylx:3346,colY:1278,plY:1291});
heat({x0:2976,y0:1361,x1:3244,y1:1501,rows:[15,30,61,93,108,123,246,1230],cols:['1.0','0.75','0.5','0.407','0.244','0.163','0.081','0.016','0.008'],
data:[[245,216,191,206,162,161,128,94,80],[155,133,130,113,113,82,75,51,41],[99,89,75,72,65,58,46,31,37],[76,68,52,57,45,38,35,17,17],[69,62,55,53,44,31,25,19,22],[64,56,53,41,43,32,32,17,23],[43,42,35,34,31,22,15,13,7],[14,12,10,10,9,11,5,6,4]],
red:[7,8],vmin:4,vmax:245,cbx:3262,cbt:['245','165','85','5'],ylx:2946,colY:1512,plY:1525});
heat({x0:3379,y0:1361,x1:3647,y1:1501,rows:[37,75,150,225,263,300,600,3000],cols:['1.0','0.75','0.5','0.167','0.1','0.067','0.033'],
data:[[254,242,200,180,165,165,154],[152,145,130,89,91,88,83],[95,85,73,46,52,51,40],[73,66,60,44,39,37,30],[66,63,59,47,39,31,25],[60,52,43,41,31,31,20],[40,34,32,19,18,18,15],[14,13,9,10,7,9,6]],
red:[7,6],vmin:6,vmax:254,cbx:3664,cbt:['245','165','85'],ylx:3346,colY:1512,plY:1525});

var P=document.getElementById('plots');
function mk(t,x,y,c,p){p=p||P;var r=4.6;
 if(t=='circ'){el('circle',{cx:x,cy:y,r:r,fill:c},p);return;}
 var pts=[];
 if(t=='star'){for(var i=0;i<10;i++){var a=-Math.PI/2+i*Math.PI/5;var rr=i%2?2.2:5.2;pts.push((x+rr*Math.cos(a)).toFixed(1)+','+(y+rr*Math.sin(a)).toFixed(1));}}
 else if(t=='dia'){pts=[x+','+(y-5),(x+3.6)+','+y,x+','+(y+5),(x-3.6)+','+y];}
 else if(t=='tri'){pts=[(x-5)+','+y,(x+4)+','+(y-5),(x+4)+','+(y+5)];}
 else if(t=='pent'){for(var i=0;i<5;i++){var a=-Math.PI/2+i*2*Math.PI/5;pts.push((x+5*Math.cos(a)).toFixed(1)+','+(y+5*Math.sin(a)).toFixed(1));}}
 el('polygon',{points:pts.join(' '),fill:c},p);
}
var S=[['star','#1f77b4'],['dia','#ff7f0e'],['tri','#2ca02c'],['pent','#d62728'],['circ','#9467bd']];
var MA=[
[[3140,833],[3147,834],[3153,835],[3160,840],[3170,853],[3175,870],[3179,890],[3182,922],[3186,958],[3188,997]],
[[3135,838],[3147,860],[3155,875],[3159,908],[3163,983]],
[[3137,837],[3143,850],[3155,863],[3162,880],[3169,903],[3173,937],[3179,992]],
[[3162,872],[3191,907],[3207,944],[3219,979]],
[[3197,848],[3226,871],[3243,917],[3255,937],[3265,981],[3273,1002]]];
var MB=[
[[3540,834],[3560,836],[3590,841],[3606,850],[3615,874],[3622,916],[3630,983]],
[[3532,844],[3541,864],[3554,881],[3560,909],[3566,958]],
[[3538,857],[3554,885],[3563,906],[3572,934],[3578,969]],
[[3578,839],[3588,927],[3595,979]],
[[3608,850],[3644,867],[3666,932],[3683,975]]];
[MA,MB].forEach(function(M){M.forEach(function(arr,i){arr.forEach(function(q){mk(S[i][0],q[0],q[1],S[i][1]);});});});
var names=['NL1','Newton-CBAG','Newton-EF21','DINGO','Fib-IOS'];
[3027,3429].forEach(function(lx){
 var ys=[918,936,953,969,987];
 for(var i=0;i<5;i++){
  el('line',{x1:lx,y1:ys[i],x2:lx+25,y2:ys[i],stroke:S[i][1],'stroke-width':1.8},LG);
  mk(S[i][0],lx+12,ys[i],S[i][1],LG);
  tx(names[i],{x:lx+33,y:ys[i]+4.5,'font-size':13,style:'font-family:"Liberation Sans",sans-serif;fill:#222'},LG);
 }
});
var ts=svg.querySelectorAll('text[textLength]');
for(var i=0;i<ts.length;i++){ts[i].setAttribute('lengthAdjust','spacingAndGlyphs');}
})();
</script>
</body></html>
